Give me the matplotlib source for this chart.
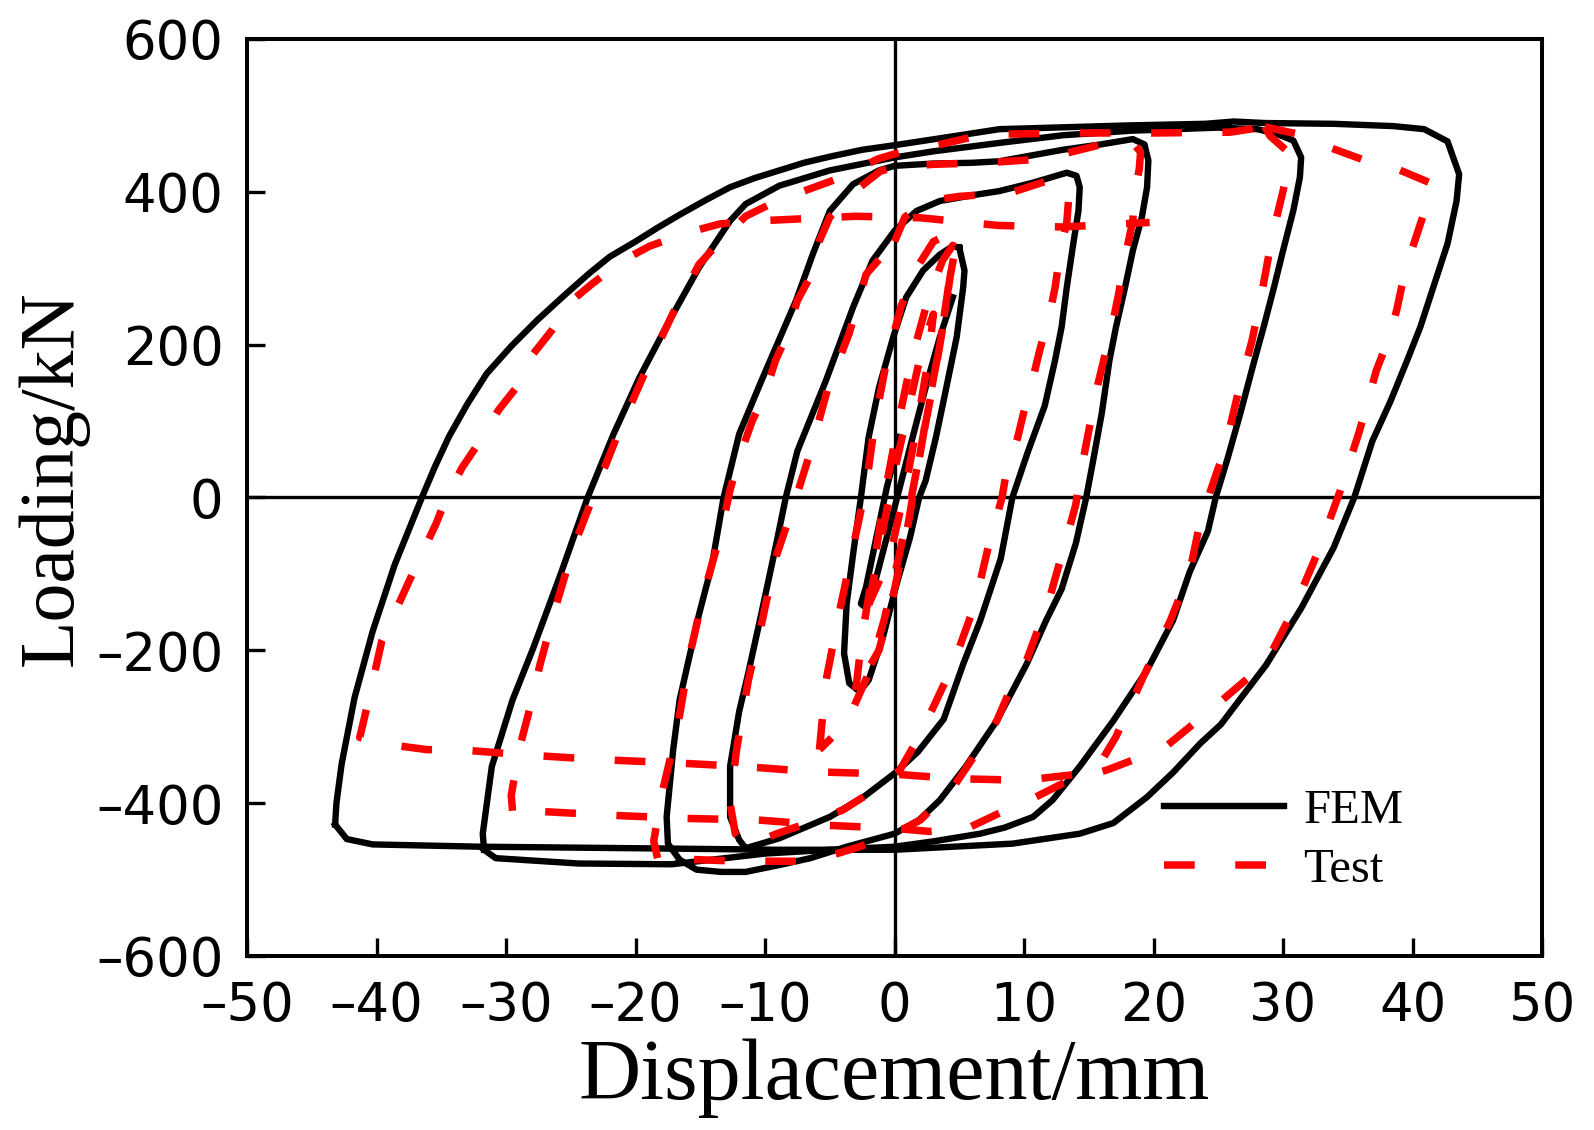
import matplotlib
matplotlib.use('Agg')
import matplotlib.pyplot as plt
from matplotlib.lines import Line2D
from matplotlib.ticker import FuncFormatter

# ---- FEM loops (black, solid) ----
fem5_x = [-43.2, -43.1, -42.7, -41.7, -40.3, -38.6, -36.5, -35.5, -34.4, -33.0, -31.5, -29.6, -27.6, -25.6,
          -23.6, -22.0, -20.0, -18.3, -16.6, -14.6, -12.7, -10.8, -8.9, -7.0, -5.0, -2.5, 0.0, 3.5, 8.1,
          18.3, 24.0, 26.2, 28.6, 33.9, 38.5, 40.9, 42.7, 43.6, 43.4, 42.7, 41.6, 40.6, 39.6, 38.3, 36.9,
          35.5, 33.9, 31.4, 28.7, 25.2, 23.6, 21.5, 19.5, 16.9, 14.3, 9.1, 0.0, -8.9, -20.0, -32.0, -40.3,
          -42.3, -43.2]
fem5_y = [-428, -400, -349, -262, -175, -88, 0, 40, 80, 122, 162, 198, 232, 263,
          293, 315, 335, 353, 370, 389, 406, 418, 428, 438, 446, 455, 461, 470, 482,
          487, 489, 492, 490, 489, 486, 482, 466, 423, 388, 332, 275, 223, 180, 126, 74,
          0, -66, -145, -219, -297, -322, -360, -392, -426, -440, -453, -461, -461, -459, -457, -454,
          -447, -428]

fem4_x = [-31.7, -31.8, -31.1, -29.5, -27.9, -25.8, -23.7, -21.7, -19.7, -17.4, -15.1, -12.7, -11.5, -8.9,
          -5.0, 0.0, 3.0, 8.1, 13.0, 18.3, 25.0, 28.0, 29.5, 30.8, 31.4, 31.3, 30.8, 30.0, 29.3, 28.5,
          27.8, 26.7, 25.7, 24.8, 24.2, 22.8, 21.5, 19.5, 16.9, 14.3, 12.2, 10.7, 8.5, 6.6, 3.0, 0.0,
          -5.0, -10.0, -17.2, -24.4, -30.8, -31.7]
fem4_y = [-461, -440, -352, -265, -197, -101, 0, 83, 157, 231, 301, 362, 384, 408,
          428, 445, 453, 464, 474, 480, 484, 482, 476, 467, 445, 419, 376, 323, 275, 223,
          180, 110, 50, 0, -44, -97, -161, -226, -292, -352, -396, -418, -432, -440, -450, -457,
          -461, -466, -480, -479, -472, -461]

fem3_x = [-16.6, -17.5, -17.6, -17.1, -16.6, -15.1, -14.1, -13.2, -12.0, -10.3, -7.6, -6.3, -5.0, -3.2,
          -1.2, 0.0, 3.0, 6.0, 8.1, 10.7, 13.0, 15.9, 18.4, 19.3, 19.6, 19.5, 19.1, 18.4, 17.8, 17.1,
          16.6, 16.0, 15.3, 14.8, 14.0, 12.9, 11.7, 10.2, 7.9, 5.5, 3.5, 1.9, 0.0, -3.7, -6.5, -8.9,
          -11.5, -13.4, -15.3, -16.6]
fem3_y = [-474, -453, -418, -331, -265, -153, -88, 0, 83, 152, 258, 319, 375, 410,
          428, 434, 437, 438, 440, 448, 455, 462, 469, 462, 441, 406, 367, 323, 275, 223,
          180, 110, 45, 0, -60, -120, -161, -218, -292, -352, -396, -422, -440, -457, -472, -481,
          -490, -490, -487, -474]

fem2_x = [-11.5, -12.0, -12.7, -12.7, -12.0, -11.3, -10.3, -9.2, -8.4, -7.5, -5.3, -3.2, -1.7, 0.0,
          1.7, 3.5, 6.2, 8.1, 10.7, 13.3, 14.05, 14.3, 14.2, 13.8, 13.3, 12.9, 12.4, 11.6, 10.3, 9.1,
          8.2, 6.6, 5.3, 3.8, 1.8, 0.0, -2.4, -5.0, -8.9, -11.5]
fem2_y = [-459, -448, -418, -352, -280, -230, -153, -66, 0, 61, 153, 249, 310, 349,
          375, 388, 396, 401, 412, 425, 421, 406, 375, 332, 275, 223, 180, 120, 60, 0,
          -80, -162, -218, -290, -333, -361, -392, -418, -446, -459]

fem1a_x = [5.0, 5.4, 5.3, 4.8, 4.0, 3.2, 2.4, 1.9, 1.2, 0.1, -0.9, -2.0, -2.7, -3.5, -3.9, -3.7, -3.2,
           -2.6, -2.0, -1.2, -0.1, 0.9, 2.2, 3.5, 4.5, 5.0]
fem1a_y = [327, 297, 275, 210, 144, 79, 22, 0, -52, -117, -183, -239, -254, -243, -204, -139, -74,
           0, 79, 144, 210, 262, 297, 318, 329, 327]

fem1b_x = [0.4, -0.6, -1.4, -2.2, -2.6, -2.3, -1.8, -0.6, 0.4, 1.4, 2.4, 3.5, 4.5]
fem1b_y = [79, 13, -52, -117, -139, -143, -130, -52, 13, 79, 144, 210, 262]

# ---- Test curves (red, dashed) ----
test_a_x = [-29.5, -29.6, -29.0, -28.3, -27.4, -26.2, -24.8, -23.3, -21.2, -19.1, -17.0, -15.1, -13.7,
            -11.5, -9.1, -6.2, -4.1, -1.3, 0.9, 3.5, 6.9, 14.0, 20.0, 25.9, 28.6]
test_a_y = [-410, -390, -330, -285, -220, -145, -65, 0, 90, 170, 245, 305, 331,
            368, 388, 406, 419, 443, 454, 462, 475, 477, 477, 478, 485]

test_b_x = [28.6, 29.0, 30.6, 30.0, 29.2, 28.3, 27.6, 26.5, 25.5, 24.3, 23.5, 22.8, 21.3, 19.2, 17.1,
            15.8, 15.3, 10.0, 4.7, 0.0, -6.2, -11.7, -17.3, -22.8, -28.4, -33.7, -36.1, -39.2, -41.3,
            -40.6, -39.6, -37.5, -35.4, -34.6, -33.4, -32.0, -30.6, -29.2, -27.9, -26.5, -25.1, -23.4,
            -21.0, -18.9, -15.9, -13.5, -10.5, -3.0, 2.0, 8.0, 13.0, 19.7]
test_b_y = [485, 473, 449, 401, 345, 262, 205, 135, 63, 4, -40, -97, -161, -235, -313,
            -350, -360, -370, -368, -362, -359, -352, -347, -343, -337, -330, -330, -323, -314,
            -264, -188, -110, -34, 0, 39, 74, 114, 144, 188, 218, 255, 279,
            310, 329, 347, 358, 362, 368, 366, 356, 354, 360]

test_c_x = [28.6, 31.3, 33.6, 36.5, 38.8, 41.6, 41.4, 40.9, 40.0, 39.4, 38.8, 38.3, 37.2, 35.9, 34.4,
            32.7, 30.8, 28.7, 24.9, 20.8, 16.5, 13.0, 10.9, 8.1, 5.5, 2.7, 0.0, -5.2, -10.6, -16.1,
            -21.7, -27.2, -29.5]
test_c_y = [485, 475, 458, 440, 430, 410, 406, 373, 327, 295, 247, 214, 166, 87, 8,
            -71, -147, -216, -271, -328, -356, -374, -392, -413, -434, -437, -433, -429, -422, -420,
            -416, -411, -410]

test_d_x = [-18.3, -18.6, -18.0, -17.3, -16.6, -15.8, -14.8, -13.4, -12.7, -12.0, -11.0, -10.1, -9.2,
            -8.4, -7.5, -6.6, -5.8, -5.0, -2.9, -1.1, 0.0, 3.0, 7.0, 10.6, 12.9, 16.0, 18.3, 19.0, 18.9,
            18.5, 18.4, 18.2, 17.8, 17.3, 16.9, 16.2, 15.7, 15.2, 14.8, 14.3, 14.0, 13.5, 12.0, 10.2,
            9.2, 7.9, 6.8, 4.5, 2.0, 0.0, -2.7, -5.2, -7.0, -12.0, -18.3]
test_d_y = [-472, -450, -390, -340, -285, -205, -130, -45, 10, 52, 100, 131, 179,
            209, 258, 286, 336, 367, 403, 427, 432, 436, 438, 442, 449, 462, 466, 452, 430,
            395, 362, 346, 314, 266, 233, 183, 148, 105, 70, 26, -9, -40, -130, -213,
            -241, -292, -322, -380, -422, -440, -457, -470, -476, -476, -472]

test_e_x = [0.0, 0.8, 2.5, 5.0, 9.0, 12.1, 13.5, 13.3, 12.8, 12.4, 12.0, 11.2, 10.7, 10.0, 9.5, 8.6,
            8.3, 7.3, 6.2, 4.5, 2.0, 0.4, -1.2, -4.0, -6.0, -9.1, -11.5, -12.3, -12.7, -12.2, -11.3,
            -10.2, -9.2, -7.6, -6.5, -5.2, -3.5, -2.2, -0.6, 0.0]
test_e_y = [335, 367, 388, 394, 399, 416, 403, 360, 323, 275, 242, 192, 157, 113, 78, 30,
            0, -60, -140, -220, -310, -357, -379, -409, -422, -440, -457, -440, -400, -330, -240,
            -160, -80, 0, 60, 140, 215, 292, 323, 335]

test_f_x = [-5.8, -5.3, -4.2, -3.2, -2.2, -1.5, -0.6, 0.5, 1.7, 3.0, 4.3, 4.8, 4.3, 3.7, 3.0, 2.2, 1.3,
            0.3, -0.8, -2.0, -3.2, -4.1, -5.8]
test_f_y = [-330, -240, -145, -65, 15, 100, 180, 250, 300, 335, 345, 335, 290, 220, 150, 80, 0,
            -80, -160, -230, -276, -302, -330]

test_g_x = [-3.0, -2.5, -1.6, -0.8, 0.2, 1.3, 2.6, 3.7, 4.5, 4.2, 3.5, 2.6, 1.8, 1.0, 0.0, -1.2, -3.0]
test_g_y = [-252, -180, -90, 0, 90, 180, 260, 310, 330, 280, 200, 120, 40, -40, -120, -200, -252]

test_h_x = [-2.0, -1.2, -0.2, 1.0, 2.2, 3.0, 2.6, 1.8, 0.8, -0.4, -2.0]
test_h_y = [-140, -70, 20, 110, 200, 240, 180, 100, 10, -80, -140]

fem_loops = [(fem5_x, fem5_y), (fem4_x, fem4_y), (fem3_x, fem3_y), (fem2_x, fem2_y),
             (fem1a_x, fem1a_y), (fem1b_x, fem1b_y)]
test_lines = [(test_a_x, test_a_y), (test_b_x, test_b_y), (test_c_x, test_c_y), (test_d_x, test_d_y),
              (test_e_x, test_e_y), (test_f_x, test_f_y), (test_g_x, test_g_y), (test_h_x, test_h_y)]

x_ticks = list(range(-50, 51, 10))
y_ticks = list(range(-600, 601, 200))

fig = plt.figure(figsize=(15.94, 11.30), dpi=100)
ax = fig.add_axes([0.155, 0.154, 0.8124, 0.8115])

ax.axhline(0, color='k', lw=2.4, zorder=1)
ax.axvline(0, color='k', lw=2.4, zorder=1)

fem_lw = 4.6
test_lw = 5.4
test_dash = (4.1, 5.4)

for lx, ly in fem_loops:
    ax.plot(lx, ly, color='k', lw=fem_lw, solid_joinstyle='round', zorder=2)
for lx, ly in test_lines:
    ax.plot(lx, ly, color='#ff0000', lw=test_lw, dashes=test_dash, zorder=3)

ax.set_xlim(-50, 50)
ax.set_ylim(-600, 600)
ax.set_xticks(x_ticks)
ax.set_yticks(y_ticks)
# short dash as minus sign, like the original tick labels
dash_fmt = FuncFormatter(lambda v, p: f'{int(round(v))}'.replace('-', '\u2013'))
ax.xaxis.set_major_formatter(dash_fmt)
ax.yaxis.set_major_formatter(dash_fmt)
ax.tick_params(direction='in', length=13, width=2.4, labelsize=38, pad=17,
               top=False, right=False)
for lab in ax.get_xticklabels() + ax.get_yticklabels():
    lab.set_fontfamily('DejaVu Sans')
for sp in ax.spines.values():
    sp.set_linewidth(2.9)

ax.set_xlabel('Displacement/mm', fontfamily='Liberation Serif', fontsize=62)
ax.set_ylabel('Loading/kN', fontfamily='Liberation Serif', fontsize=56)
ax.xaxis.set_label_coords(0.5, -0.090)
ax.yaxis.set_label_coords(-0.122, 0.521)

handles = [Line2D([], [], color='k', lw=fem_lw),
           Line2D([], [], color='#ff0000', lw=test_lw, dashes=test_dash)]
ax.legend(handles, ['FEM', 'Test'], loc='upper left', bbox_to_anchor=(0.708, 0.182),
          frameon=False, borderpad=0, borderaxespad=0, handlelength=2.47,
          handletextpad=0.4, labelspacing=0.31,
          prop={'family': 'Liberation Serif', 'size': 35})

fig.savefig('out.png', dpi=100)
